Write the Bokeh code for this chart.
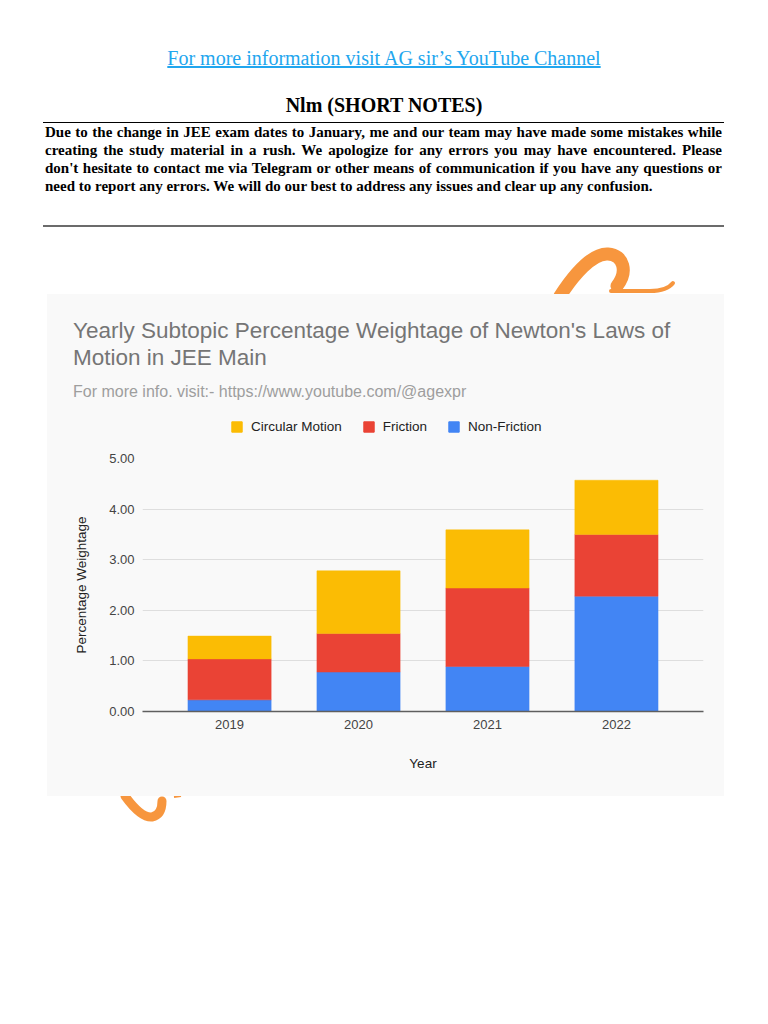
from bokeh.plotting import figure
from bokeh.models import (Div, Legend, LegendItem, FactorRange, Range1d,
                          FixedTicker, NumeralTickFormatter, ColumnDataSource, Spacer)
from bokeh.layouts import column, row
from bokeh.embed import file_html
from bokeh.resources import INLINE

# ---------------- data ----------------
years = ["2019", "2020", "2021", "2022"]
non_friction = [0.23, 0.78, 0.89, 2.28]
friction = [0.81, 0.76, 1.55, 1.22]
circular_motion = [0.45, 1.24, 1.15, 1.07]
series_names = ["Circular Motion", "Friction", "Non-Friction"]
y_ticks = [0, 1, 2, 3, 4, 5]

chart_title_1 = "Yearly Subtopic Percentage Weightage of Newton's Laws of"
chart_title_2 = "Motion in JEE Main"
chart_subtitle = "For more info. visit:- https://www.youtube.com/@agexpr"

BLUE = "#4285F4"
RED = "#EA4335"
YELLOW = "#FBBC04"
BG = "#f9f9f9"
ORANGE = "#F7963E"
FONT = "Liberation Sans"

# ---------------- page header ----------------
header_html = """
<div style="position:relative;width:760px;height:230px;font-family:'Liberation Serif','Times New Roman',serif;">
  <div style="position:absolute;left:0;top:46px;width:768px;text-align:center;font-size:20px;line-height:24px;">
    <span style="color:#22a6ee;text-decoration:underline;text-decoration-color:#22a6ee;">For more information visit AG sir&#8217;s YouTube Channel</span>
  </div>
  <div style="position:absolute;left:0;top:93px;width:768px;text-align:center;font-size:20px;line-height:24px;font-weight:bold;color:#000;">Nlm (SHORT NOTES)</div>
  <div style="position:absolute;left:43px;top:122px;width:681px;height:0;border-top:1.3px solid #000;"></div>
  <div style="position:absolute;left:45px;top:123px;width:677px;font-size:15px;line-height:18px;font-weight:bold;color:#000;">
    <div style="text-align:justify;text-align-last:justify;white-space:nowrap;">Due to the change in JEE exam dates to January, me and our team may have made some mistakes while</div>
    <div style="text-align:justify;text-align-last:justify;white-space:nowrap;">creating the study material in a rush. We apologize for any errors you may have encountered. Please</div>
    <div style="text-align:justify;text-align-last:justify;white-space:nowrap;">don't hesitate to contact me via Telegram or other means of communication if you have any questions or</div>
    <div style="text-align:left;white-space:nowrap;">need to report any errors. We will do our best to address any issues and clear up any confusion.</div>
  </div>
  <div style="position:absolute;left:43px;top:225px;width:681px;height:0;border-top:2px solid #6b6b6b;"></div>
</div>
"""
header = Div(text=header_html, width=760, height=230, margin=0)

logo_top = Div(text=f"""
<svg width="760" height="64" xmlns="http://www.w3.org/2000/svg">
  <path d="M 560 66 C 573 46, 592 23, 608 24 C 624 25, 628 42, 617 56" fill="none" stroke="{ORANGE}" stroke-width="13" stroke-linecap="round"/>
  <path d="M 611 61 L 650 61 Q 667 61 673 53" fill="none" stroke="{ORANGE}" stroke-width="4" stroke-linecap="round"/>
</svg>""", width=760, height=64, margin=0)

logo_bottom = Div(text=f"""
<svg width="760" height="34" xmlns="http://www.w3.org/2000/svg">
  <path d="M 125 0 Q 141 22 152 21 Q 162 19 162 5" fill="none" stroke="{ORANGE}" stroke-width="9" stroke-linecap="round"/>
  <path d="M 174 1 L 181 0" fill="none" stroke="{ORANGE}" stroke-width="2"/>
</svg>""", width=760, height=34, margin=0)

# ---------------- chart titles (inside the light-grey chart card) ----------------
titles_html = f"""
<div style="position:relative;width:677px;height:116px;background:{BG};font-family:'{FONT}',Arial,sans-serif;">
  <div style="position:absolute;left:26px;top:23px;font-size:22.5px;line-height:27px;color:#757575;white-space:nowrap;">{chart_title_1}<br>{chart_title_2}</div>
  <div style="position:absolute;left:26px;top:89px;font-size:16px;line-height:18px;color:#9e9e9e;white-space:nowrap;">{chart_subtitle}</div>
</div>
"""
titles = Div(text=titles_html, width=677, height=116, margin=0,
             styles={"background-color": BG})

src = ColumnDataSource(dict(year=years, nf=non_friction, f=friction, cm=circular_motion))

# ---------------- legend strip (same stacked series, hidden; only the legend shows) ----------------
lg = figure(width=677, height=32, output_backend="svg", toolbar_location=None,
            x_range=FactorRange(factors=years), y_range=Range1d(-2, -1),
            x_axis_type=None, y_axis_type=None,
            min_border_left=0, min_border_right=0, min_border_top=0, min_border_bottom=0,
            background_fill_color=BG, border_fill_color=BG, outline_line_color=None)
lrs = lg.vbar_stack(["nf", "f", "cm"], x="year", width=0.645, source=src,
                    fill_color=[BLUE, RED, YELLOW], line_color=[BLUE, RED, YELLOW])
for r in lrs:
    r.visible = False
legend = Legend(items=[LegendItem(label=series_names[0], renderers=[lrs[2]]),
                       LegendItem(label=series_names[1], renderers=[lrs[1]]),
                       LegendItem(label=series_names[2], renderers=[lrs[0]])],
                location=(88, 8), orientation="horizontal", click_policy="none",
                glyph_width=13, glyph_height=13, label_height=13, label_standoff=8,
                spacing=20, padding=0, margin=0, border_line_color=None,
                background_fill_alpha=0, label_text_font=FONT,
                label_text_font_size="13.5px", label_text_color="#222222")
lg.add_layout(legend)

# ---------------- chart ----------------
p = figure(width=677, height=354, output_backend="svg", toolbar_location=None,
           x_range=FactorRange(factors=years, range_padding=0.175, range_padding_units="absolute"),
           y_range=Range1d(0, 5),
           min_border_left=95, min_border_right=21, min_border_top=16, min_border_bottom=85,
           background_fill_color=BG, border_fill_color=BG, outline_line_color=None)

p.vbar_stack(["nf", "f", "cm"], x="year", width=0.645, source=src,
             fill_color=[BLUE, RED, YELLOW], line_color=[BLUE, RED, YELLOW], line_width=0.5)

p.xgrid.grid_line_color = None
p.ygrid.grid_line_color = "#dedede"
p.ygrid.grid_line_width = 1.2
p.yaxis.ticker = FixedTicker(ticks=y_ticks)
p.yaxis.formatter = NumeralTickFormatter(format="0.00")
p.yaxis.axis_line_color = None
p.yaxis.major_tick_line_color = None
p.yaxis.minor_tick_line_color = None
p.yaxis.major_tick_out = 0
p.yaxis.major_tick_in = 0
p.yaxis.minor_tick_out = 0
p.yaxis.major_label_standoff = 8
p.yaxis.major_label_text_font = FONT
p.yaxis.major_label_text_font_size = "13px"
p.yaxis.major_label_text_color = "#444444"
p.yaxis.axis_label = "Percentage Weightage"
p.yaxis.axis_label_text_font = FONT
p.yaxis.axis_label_text_font_size = "13.5px"
p.yaxis.axis_label_text_font_style = "normal"
p.yaxis.axis_label_text_color = "#222222"
p.yaxis.axis_label_standoff = 17

p.xaxis.axis_line_color = "#5f5f5f"
p.xaxis.axis_line_width = 1.6
p.xaxis.major_tick_line_color = None
p.xaxis.minor_tick_line_color = None
p.xaxis.major_tick_out = 0
p.xaxis.major_tick_in = 0
p.xaxis.minor_tick_out = 0
p.xaxis.major_label_standoff = 8
p.xaxis.major_label_text_font = FONT
p.xaxis.major_label_text_font_size = "13px"
p.xaxis.major_label_text_color = "#444444"
p.xaxis.axis_label = "Year"
p.xaxis.axis_label_text_font = FONT
p.xaxis.axis_label_text_font_size = "13.5px"
p.xaxis.axis_label_text_font_style = "normal"
p.xaxis.axis_label_text_color = "#222222"
p.xaxis.axis_label_standoff = 24

chart = column(titles, lg, p, spacing=0, styles={"background-color": BG})
layout = column(header, logo_top, row(Spacer(width=47, height=502, margin=0), chart, spacing=0),
                logo_bottom, spacing=0)

open("out.html", "w").write(file_html(layout, INLINE))
